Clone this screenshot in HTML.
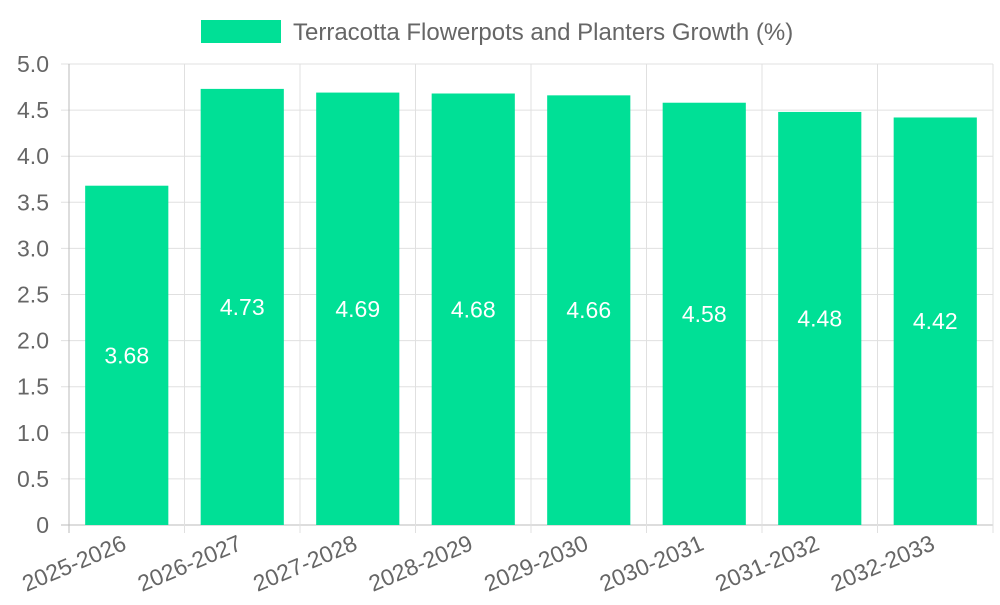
<!DOCTYPE html>
<html><head><meta charset="utf-8"><style>
body{margin:0;background:#fff;width:1000px;height:600px;overflow:hidden}
svg{font-family:"Liberation Sans",sans-serif}
</style></head><body>
<svg id="chart" width="1000" height="600">
<g>
<rect x="201" y="20" width="80" height="23" fill="#00e096"/>
<text x="293" y="40" font-size="24" fill="#666">Terracotta Flowerpots and Planters Growth (%)</text>
</g>
</svg>
<script>
const categories=["2025-2026","2026-2027","2027-2028","2028-2029","2029-2030","2030-2031","2031-2032","2032-2033"];
const values=[3.68,4.73,4.69,4.68,4.66,4.58,4.48,4.42];
const yTicks=[0,0.5,1,1.5,2,2.5,3,3.5,4,4.5,5];
const yTickLabels=["0","0.5","1.0","1.5","2.0","2.5","3.0","3.5","4.0","4.5","5.0"];
const svg=document.getElementById('chart');
const NS="http://www.w3.org/2000/svg";
const L=69,R=993,T=64,B=525;
const y=v=>B-(v/5)*(B-T);
const cw=(R-L)/categories.length;
const x=i=>L+i*cw;
function mk(t,a){const e=document.createElementNS(NS,t);for(const k in a)e.setAttribute(k,a[k]);svg.appendChild(e);return e;}
yTicks.forEach((v,i)=>{
 const g=mk('line',{x1:L-8,x2:R,y1:y(v),y2:y(v),stroke:i==0?'#bbb':'#e0e0e0','stroke-width':1});
 
 
 const t=mk('text',{x:L-20,y:y(v)+8,'text-anchor':'end','font-size':23,fill:'#666'});
 t.textContent=yTickLabels[i];
 
 
});
for(let i=0;i<=categories.length;i++){
 const g=mk('line',{x1:x(i),x2:x(i),y1:T,y2:B+8,stroke:i==0?'#bbb':'#e0e0e0','stroke-width':1});
 
 
}
categories.forEach((c,i)=>{
 const bw=cw*0.72,cx=x(i)+cw/2;
 const r=mk('rect',{x:cx-bw/2,y:y(values[i]),width:bw,height:B-y(values[i]),fill:'#00e096'});
 
 
 const v=mk('text',{x:cx,y:(y(values[i])+B)/2+8,'text-anchor':'middle','font-size':23,fill:'#fff'});
 v.textContent=values[i].toFixed(2);
 
 
 const t=mk('text',{x:cx+1,y:B+24,'text-anchor':'end','font-size':23,fill:'#666',transform:`rotate(-23 ${cx+1} ${B+24})`});
 t.textContent=c;
 
 
});
</script>
</body></html>
